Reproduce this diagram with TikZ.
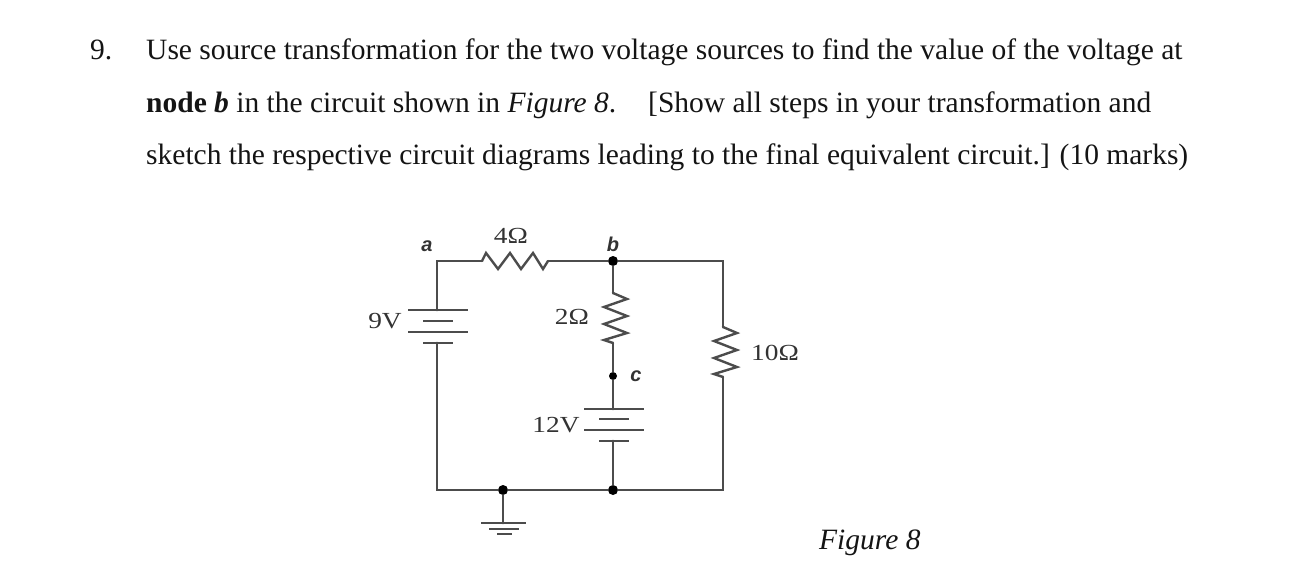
\documentclass[tikz,border=0pt]{standalone}
\usepackage{fontspec}
\setmainfont{Liberation Serif}
\newfontfamily\lblsans{Liberation Sans}
\definecolor{wirecol}{gray}{0.3}
\definecolor{txtcol}{gray}{0.08}
\definecolor{lblcol}{gray}{0.2}
\tikzset{
  x=1pt,y=-1pt,
  wire/.style={draw=wirecol,line width=2.8pt,line cap=round,line join=miter},
  thinwire/.style={draw=wirecol,line width=2.4pt,line cap=round,line join=miter},
  plate/.style={draw=wirecol,line width=2.4pt},
  para/.style={anchor=base west,inner sep=0pt,text=txtcol,font=\fontsize{29.5}{29.5}\selectfont},
  val/.style={inner sep=0pt,text=lblcol,xscale=1.19,font=\fontsize{23}{23}\selectfont},
  tag/.style={inner sep=0pt,text=lblcol,font=\lblsans\bfseries\itshape\fontsize{20}{20}\selectfont},
  dot/.style={circle,fill=black,inner sep=0pt,minimum size=#1},
  vres/.pic={\draw[thinwire] (0,0) -- (14,6) -- (-9,14) -- (14,23) -- (-9,31) -- (14,40) -- (-9,47) -- (0,50);},
  hres/.pic={\draw[thinwire] (0,0) -- (4,-8) -- (16,8) -- (28,-8) -- (39,8) -- (51,-8) -- (61,8) -- (66,0);}
}
\begin{document}
\begin{tikzpicture}
\useasboundingbox (0,0) rectangle (1314,576);
% text
\node[para] (q) at (90,59) {9.};
\node[para] (l1) at (146,59) {Use source transformation for the two voltage sources to find the value of the voltage at};
\node[para] (l2) at (146,112) {\textbf{node \textit{b}} in the circuit shown in \textit{Figure 8}.\hspace{32pt}[Show all steps in your transformation and};
\node[para] (l3) at (146,164) {sketch the respective circuit diagrams leading to the final equivalent circuit.] (10 marks)};
\node[para] (fig) at (819,549) {\textit{Figure 8}};
% junctions
\coordinate (a) at (437,261);
\node[dot=10pt] (b) at (613,261) {};
\node[dot=8pt] (c) at (613,376) {};
\node[dot=10pt] (g) at (503,490) {};
\node[dot=10pt] (d) at (613,490) {};
\coordinate (tr) at (723,261);
\coordinate (br) at (723,490);
\coordinate (bl) at (437,490);
% resistor terminals
\coordinate (r4a) at (482,261);
\coordinate (r4b) at (548,261);
\coordinate (r2a) at (613,293);
\coordinate (r2b) at (613,343);
\coordinate (r10a) at (723,327);
\coordinate (r10b) at (723,377);
\pic at (r4a) {hres};
\pic at (r2a) {vres};
\pic at (r10a) {vres};
% 9V battery
\coordinate (b9t) at (437,310);
\coordinate (b9b) at (437,343);
\draw[plate] (408,310) -- (468,310);
\draw[plate] (423,321) -- (453,321);
\draw[plate] (408,332) -- (468,332);
\draw[plate] (423,343) -- (453,343);
% 12V battery
\coordinate (b12t) at (613,409);
\coordinate (b12b) at (613,441);
\draw[plate] (584,409) -- (644,409);
\draw[plate] (599,419) -- (629,419);
\draw[plate] (584,430) -- (644,430);
\draw[plate] (599,441) -- (629,441);
% ground
\coordinate (gt) at (503,523);
\draw[plate] (481,523) -- (526,523);
\draw[plate] (489,529) -- (519,529);
\draw[plate] (497,534) -- (512,534);
% wires
\draw[wire] (b9t) -- (a) -- (r4a);
\draw[wire] (r4b) -- (b);
\draw[wire] (b) -- (tr) -- (r10a);
\draw[wire] (b) -- (r2a);
\draw[wire] (r2b) -- (c);
\draw[wire] (c) -- (b12t);
\draw[wire] (b12b) -- (d);
\draw[wire] (r10b) -- (br) -- (d);
\draw[wire] (d) -- (g);
\draw[wire] (g) -- (bl) -- (b9b);
\draw[wire] (g) -- (gt);
% labels
\node[val] (l4) at (511,236) {4Ω};
\node[val] (l9) at (385,321) {9V};
\node[val] (l2o) at (572,317) {2Ω};
\node[val] (l10) at (775,353) {10Ω};
\node[val] (l12) at (556,425) {12V};
\node[tag] (ta) at (427,246) {a};
\node[tag] (tb) at (613,244) {b};
\node[tag] (tc) at (636,376) {c};
\end{tikzpicture}
\end{document}
